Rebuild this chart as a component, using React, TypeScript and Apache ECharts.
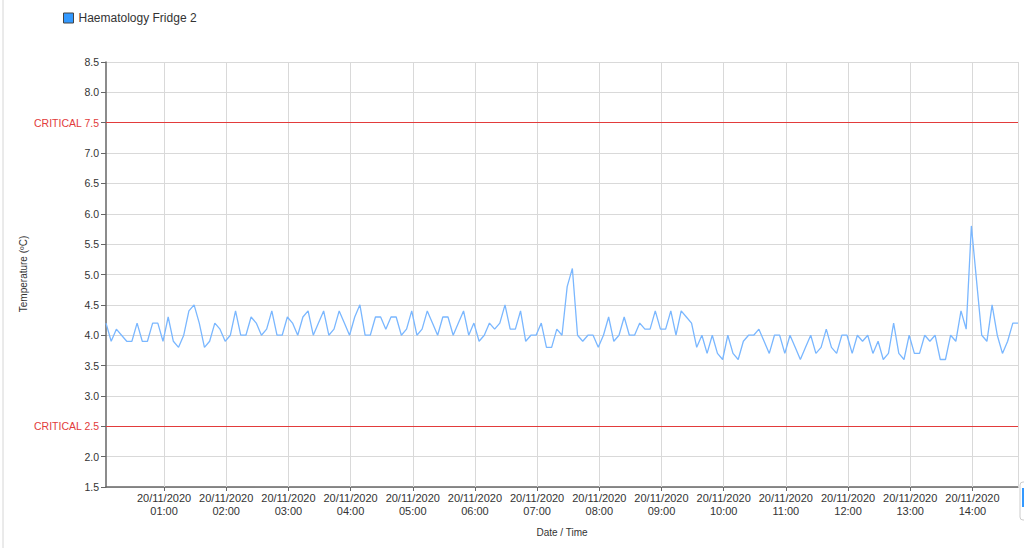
import React, { useEffect, useRef } from "react";
import * as echarts from "echarts";

const SERIES_NAME = "Haematology Fridge 2";
const Y_AXIS_NAME = "Temperature (ºC)";
const X_AXIS_NAME = "Date / Time";
const DATE_LABEL = "20/11/2020";
const HOUR_LABELS = [
  "01:00", "02:00", "03:00", "04:00", "05:00", "06:00", "07:00",
  "08:00", "09:00", "10:00", "11:00", "12:00", "13:00", "14:00",
];
const Y_MIN = 1.5;
const Y_MAX = 8.5;
const Y_STEP = 0.5;
const CRITICAL_LEVELS = [7.5, 2.5];

// readings every 5 minutes, first at 00:04
const FIRST_READING_MIN = 4;
const READING_STEP_MIN = 5;

const TEMPERATURES = [
  4.2, 3.9, 4.1, 4.0, 3.9, 3.9, 4.2, 3.9, 3.9, 4.2,
  4.2, 3.9, 4.3, 3.9, 3.8, 4.0, 4.4, 4.5, 4.2, 3.8,
  3.9, 4.2, 4.1, 3.9, 4.0, 4.4, 4.0, 4.0, 4.3, 4.2,
  4.0, 4.1, 4.4, 4.0, 4.0, 4.3, 4.2, 4.0, 4.3, 4.4,
  4.0, 4.2, 4.4, 4.0, 4.1, 4.4,
  4.2, 4.0, 4.3, 4.5,
  4.0, 4.0, 4.3, 4.3, 4.1, 4.3, 4.3, 4.0, 4.1, 4.4,
  4.0, 4.1, 4.4, 4.2, 4.0, 4.3, 4.3, 4.0, 4.2, 4.4,
  4.0, 4.2, 3.9, 4.0, 4.2, 4.1, 4.2, 4.5, 4.1, 4.1,
  4.4, 3.9, 4.0, 4.0, 4.2, 3.8, 3.8, 4.1, 4.0, 4.8,
  5.1, 4.0, 3.9, 4.0, 4.0, 3.8, 4.0, 4.3, 3.9, 4.0,
  4.3, 4.0, 4.0, 4.2, 4.1, 4.1, 4.4, 4.1, 4.1, 4.4,
  4.0, 4.4, 4.3, 4.2, 3.8, 4.0, 3.7, 4.0, 3.7, 3.6,
  4.0, 3.7, 3.6, 3.9, 4.0, 4.0, 4.1, 3.9, 3.7, 4.0,
  4.0, 3.7, 4.0, 3.8,
  3.6, 3.8, 4.0, 3.7, 3.8, 4.1,
  3.8, 3.7, 4.0, 4.0, 3.7, 4.0, 3.9, 4.0, 3.7, 3.9,
  3.6, 3.7, 4.2, 3.7, 3.6, 4.0, 3.7, 3.7, 4.0, 3.9,
  4.0, 3.6, 3.6, 4.0, 3.9, 4.4, 4.1, 5.8, 4.9, 4.0,
  3.9, 4.5, 4.0, 3.7, 3.9, 4.2, 4.2,
];

const FONT = "'Liberation Sans', Arial, Helvetica, sans-serif";

function toMinutes(hhmm: string): number {
  const [h, m] = hhmm.split(":").map(Number);
  return h * 60 + m;
}

export default function App() {
  const ref = useRef<HTMLDivElement>(null);

  useEffect(() => {
    if (!ref.current) return;
    const chart = echarts.init(ref.current, undefined, { renderer: "svg" });

    const points = TEMPERATURES.map((t, i) => [
      FIRST_READING_MIN + i * READING_STEP_MIN,
      t,
    ]);
    const xMin = FIRST_READING_MIN;
    const xMax = FIRST_READING_MIN + (TEMPERATURES.length - 1) * READING_STEP_MIN;
    const hourValues = HOUR_LABELS.map(toMinutes);
    const labelByMinute: Record<number, string> = {};
    HOUR_LABELS.forEach((l) => (labelByMinute[toMinutes(l)] = l));

    const gridColor = "#d9d9d9";
    const critColor = "#e23b3b";

    const markLines: any[] = [
      ...hourValues.map((m) => ({
        xAxis: m,
        lineStyle: { color: gridColor, width: 1, type: "solid" },
      })),
      { xAxis: xMax, lineStyle: { color: gridColor, width: 1, type: "solid" } },
      ...CRITICAL_LEVELS.map((v) => ({
        yAxis: v,
        lineStyle: { color: critColor, width: 1.2, type: "solid" },
      })),
    ];

    chart.setOption({
      animation: false,
      backgroundColor: "#ffffff",
      textStyle: { fontFamily: FONT },
      legend: {
        left: 58,
        top: 7,
        icon: "rect",
        itemWidth: 10,
        itemHeight: 10,
        itemGap: 10,
        textStyle: { fontSize: 12, color: "#333", fontFamily: FONT },
        data: [
          {
            name: SERIES_NAME,
            itemStyle: { color: "#3399ff", borderColor: "#444", borderWidth: 1 },
          },
        ],
      },
      grid: { left: 106, right: 6, top: 62, bottom: 61 },
      xAxis: {
        type: "value",
        min: xMin,
        max: xMax,
        name: X_AXIS_NAME,
        nameLocation: "middle",
        nameGap: 40,
        nameTextStyle: { fontSize: 10, color: "#333", fontFamily: FONT },
        axisLine: { show: true, onZero: false, lineStyle: { color: "#666", width: 1.5 } },
        axisTick: {
          show: true,
          customValues: hourValues,
          length: 4,
          lineStyle: { color: "#666", width: 1 },
        },
        axisLabel: {
          customValues: hourValues,
          fontSize: 11,
          lineHeight: 13,
          margin: 4,
          color: "#333",
          fontFamily: FONT,
          formatter: (v: number) => `${DATE_LABEL}\n${labelByMinute[v] ?? ""}`,
        },
        splitLine: { show: false },
      },
      yAxis: {
        type: "value",
        min: Y_MIN,
        max: Y_MAX,
        interval: Y_STEP,
        axisLine: { show: true, lineStyle: { color: "#666", width: 1.5 } },
        axisTick: { show: true, length: 5, lineStyle: { color: "#666", width: 1 } },
        axisLabel: {
          fontSize: 10.5,
          color: "#333",
          margin: 7,
          fontFamily: FONT,
          formatter: (v: number) => {
            const s = v.toFixed(1);
            return CRITICAL_LEVELS.includes(v) ? `{crit|CRITICAL ${s}}` : s;
          },
          rich: { crit: { color: critColor, fontSize: 10.5, fontFamily: FONT } },
        },
        splitLine: { show: true, lineStyle: { color: gridColor, width: 1 } },
      },
      series: [
        {
          name: SERIES_NAME,
          type: "line",
          data: points,
          showSymbol: false,
          symbol: "none",
          z: 3,
          itemStyle: { color: "#3399ff" },
          lineStyle: { color: "#7ab7ff", width: 1.3 },
          markLine: {
            silent: true,
            z: 1,
            symbol: ["none", "none"],
            label: { show: false },
            emphasis: { disabled: true },
            data: markLines,
          },
        },
      ],
      graphic: [
        {
          type: "text",
          x: 23,
          y: 274,
          rotation: Math.PI / 2,
          silent: true,
          style: {
            text: Y_AXIS_NAME,
            fontSize: 10,
            fontFamily: FONT,
            fill: "#333",
            align: "center",
            verticalAlign: "middle",
          },
        },
        {
          type: "line",
          shape: { x1: 3, y1: 0, x2: 3, y2: 548 },
          style: { stroke: "#d6d6d6", lineWidth: 1 },
          silent: true,
        },
        {
          type: "rect",
          shape: { x: 1020, y: 482, width: 10, height: 38, r: 3 },
          style: { fill: "#ffffff", stroke: "#cccccc", lineWidth: 1 },
          silent: true,
        },
        {
          type: "rect",
          shape: { x: 1022, y: 488, width: 3, height: 19 },
          style: { fill: "#3399ff" },
          silent: true,
        },
      ],
    });

    return () => chart.dispose();
  }, []);

  return (
    <div
      ref={ref}
      style={{
        position: "absolute",
        left: 0,
        top: 0,
        width: 1024,
        height: 548,
        background: "#fff",
      }}
    />
  );
}
